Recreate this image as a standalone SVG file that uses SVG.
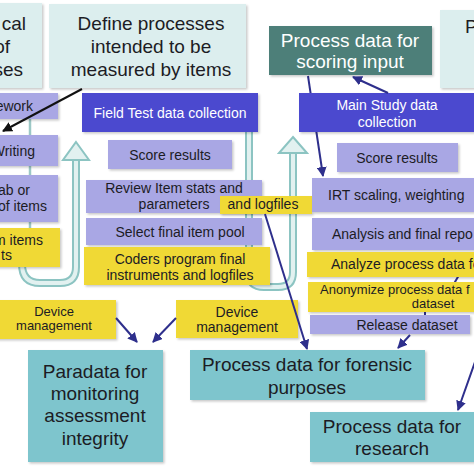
<svg xmlns="http://www.w3.org/2000/svg" width="474" height="474" viewBox="0 0 474 474">
<defs>
<filter id="sh" x="-10%" y="-10%" width="130%" height="150%"><feDropShadow dx="1.5" dy="1.5" stdDeviation="1" flood-color="#000" flood-opacity="0.22"/></filter>
<marker id="nav" viewBox="0 0 10 10" refX="9" refY="5" markerWidth="5" markerHeight="5" orient="auto"><path d="M0,0 L10,5 L0,10 z" fill="#2e2f8c"/></marker>
<marker id="blk" viewBox="0 0 10 10" refX="9" refY="5" markerWidth="5" markerHeight="5" orient="auto"><path d="M0,0 L10,5 L0,10 z" fill="#111"/></marker>
</defs>
<style>
text{font-family:"Liberation Sans",Arial,sans-serif;fill:#1c1c24;}
.pale{fill:#dceeee;filter:url(#sh);}
.dblue{fill:#4c49cf;filter:url(#sh);}
.purp{fill:#a9a7e4;filter:url(#sh);}
.yel{fill:#f0d935;filter:url(#sh);}
.teal{fill:#7ec5cd;filter:url(#sh);}
.dteal{fill:#4e7f79;filter:url(#sh);}
.w{fill:#ffffff;}
.c{text-anchor:middle;}
.e{text-anchor:end;}
.f19{font-size:19px;}
.f14{font-size:14px;}
.f13{font-size:13px;}
.nl{stroke:#2e2f8c;stroke-width:2;fill:none;marker-end:url(#nav);}
.tu1{stroke:#8cc4c2;stroke-width:8;fill:none;}
.tu2{stroke:#e2f1f0;stroke-width:4;fill:none;}
.th{fill:#e2f1f0;stroke:#8cc4c2;stroke-width:2;}
</style>

<g id="connectors-back">
<line x1="30" y1="119" x2="30" y2="228" stroke="#9cc8c6" stroke-width="2.5"/>
<path class="tu1" d="M22 264 Q22 283 40 283 L60 283 Q76 283 76 267 L76 159"/>
<path class="tu2" d="M22 264 Q22 283 40 283 L60 283 Q76 283 76 267 L76 159"/>
<polygon class="th" points="76,142 89,160 63,160"/>
<path class="tu1" d="M249 132 L249 272 Q249 287 264 287 L278 287 Q293 287 293 272 L293 152"/>
<path class="tu2" d="M249 132 L249 272 Q249 287 264 287 L278 287 Q293 287 293 272 L293 152"/>
<polygon class="th" points="293,137 307,153 279,153"/>
<line class="nl" x1="308" y1="76" x2="323" y2="176"/>
<line x1="462" y1="270" x2="452" y2="287" stroke="#2e2f8c" stroke-width="2"/>
<line x1="425" y1="306" x2="425" y2="318" stroke="#2e2f8c" stroke-width="2"/>
</g>

<g id="n-topleft"><rect class="pale" x="-4" y="3" width="46" height="85"/>
<text class="e f19" x="26" y="30">cal</text><text class="e f19" x="10" y="53">of</text><text class="e f19" x="23" y="76">ses</text></g>
<g id="n-define"><rect class="pale" x="49" y="4" width="197" height="84"/>
<text class="c f19" x="151" y="30">Define processes</text><text class="c f19" x="151" y="53">intended to be</text><text class="c f19" x="151" y="76">measured by items</text></g>
<g id="n-topright"><rect class="pale" x="440" y="10" width="40" height="78"/>
<text class="f19" x="465" y="33">P</text></g>
<g id="n-scoring"><rect class="dteal" x="269" y="26" width="163" height="49"/>
<text class="c f19 w" x="350" y="47">Process data for</text><text class="c f19 w" x="350" y="68">scoring input</text></g>
<g id="n-mainstudy"><rect class="dblue" x="299" y="93" width="180" height="39"/>
<text class="c f14 w" x="387" y="110">Main Study data</text><text class="c f14 w" x="387" y="127">collection</text></g>
<g id="n-fieldtest"><rect class="dblue" x="82" y="93" width="176" height="39"/>
<text class="c f14 w" x="170" y="118">Field Test data collection</text></g>

<g id="n-framework"><rect class="purp" x="-4" y="93" width="62" height="26"/><text class="e f14" x="33" y="111">ework</text></g>
<g id="n-writing"><rect class="purp" x="-4" y="135" width="62" height="31"/><text class="e f14" x="35" y="156">Writing</text></g>
<g id="n-lab"><rect class="purp" x="-4" y="175" width="62" height="47"/><text class="e f14" x="30" y="195">ab or</text><text class="e f14" x="47" y="211">of items</text></g>
<g id="n-program-items"><rect class="yel" x="-4" y="228" width="64" height="39"/><text class="e f14" x="43" y="245">m items</text><text class="e f14" x="12" y="260">ts</text></g>

<g id="n-score1"><rect class="purp" x="108" y="140" width="124" height="29"/><text class="c f14" x="170" y="160">Score results</text></g>
<g id="n-review"><rect class="purp" x="86" y="180" width="176" height="33"/><text class="c f14" x="174" y="193">Review Item stats and</text><text class="c f14" x="174" y="209">parameters</text></g>
<g id="n-logfiles"><rect class="yel" x="220" y="196" width="92" height="18"/><text class="c f14" x="263" y="209">and logfiles</text></g>
<g id="n-select"><rect class="purp" x="86" y="218" width="176" height="27"/><text class="c f14" x="180" y="237">Select final item pool</text></g>
<g id="n-coders"><rect class="yel" x="84" y="247" width="186" height="38"/><text class="c f14" x="180" y="264">Coders program final</text><text class="c f14" x="180" y="280">instruments and logfiles</text></g>

<g id="n-score2"><rect class="purp" x="337" y="143" width="121" height="29"/><text class="c f14" x="397" y="163">Score results</text></g>
<g id="n-irt"><rect class="purp" x="312" y="178" width="170" height="34"/><text class="f14" x="328" y="200">IRT scaling, weighting</text></g>
<g id="n-analysis"><rect class="purp" x="312" y="218" width="170" height="32"/><text class="f14" x="332" y="239">Analysis and final repo</text></g>
<g id="n-analyze"><rect class="yel" x="307" y="252" width="170" height="25"/><text class="f14" x="331" y="269">Analyze process data fo</text></g>
<g id="n-anonymize"><rect class="yel" x="308" y="282" width="170" height="30"/><text class="f13" x="320" y="294">Anonymize process data f</text><text class="c f13" x="433" y="308">dataset</text></g>
<g id="n-release"><rect class="purp" x="310" y="315" width="160" height="19"/><text class="c f14" x="407" y="330">Release dataset</text></g>

<g id="n-device1"><rect class="yel" x="-4" y="300" width="120" height="39"/><text class="c f13" x="54" y="316">Device</text><text class="c f13" x="54" y="330">management</text></g>
<g id="n-device2"><rect class="yel" x="176" y="300" width="122" height="38"/><text class="c f14" x="237" y="317">Device</text><text class="c f14" x="237" y="332">management</text></g>

<g id="n-paradata"><rect class="teal" x="28" y="350" width="135" height="112"/>
<text class="c f19" x="95" y="378">Paradata for</text><text class="c f19" x="95" y="400">monitoring</text><text class="c f19" x="95" y="422">assessment</text><text class="c f19" x="95" y="445">integrity</text></g>
<g id="n-forensic"><rect class="teal" x="190" y="350" width="235" height="50"/>
<text class="c f19" x="307" y="371">Process data for forensic</text><text class="c f19" x="307" y="394">purposes</text></g>
<g id="n-research"><rect class="teal" x="310" y="412" width="170" height="50"/>
<text class="c f19" x="392" y="433">Process data for</text><text class="c f19" x="392" y="455">research</text></g>

<g id="connectors-front">
<line x1="82" y1="89" x2="3" y2="131" stroke="#111" stroke-width="2" marker-end="url(#blk)"/>
<line class="nl" x1="388" y1="93" x2="353" y2="77"/>
<line class="nl" x1="265" y1="214" x2="307" y2="349"/>
<line class="nl" x1="410" y1="335" x2="398" y2="348"/>
<line class="nl" x1="475" y1="362" x2="458" y2="410"/>
<line class="nl" x1="116" y1="318" x2="137" y2="342"/>
<line class="nl" x1="176" y1="318" x2="153" y2="342"/>
</g>
</svg>
